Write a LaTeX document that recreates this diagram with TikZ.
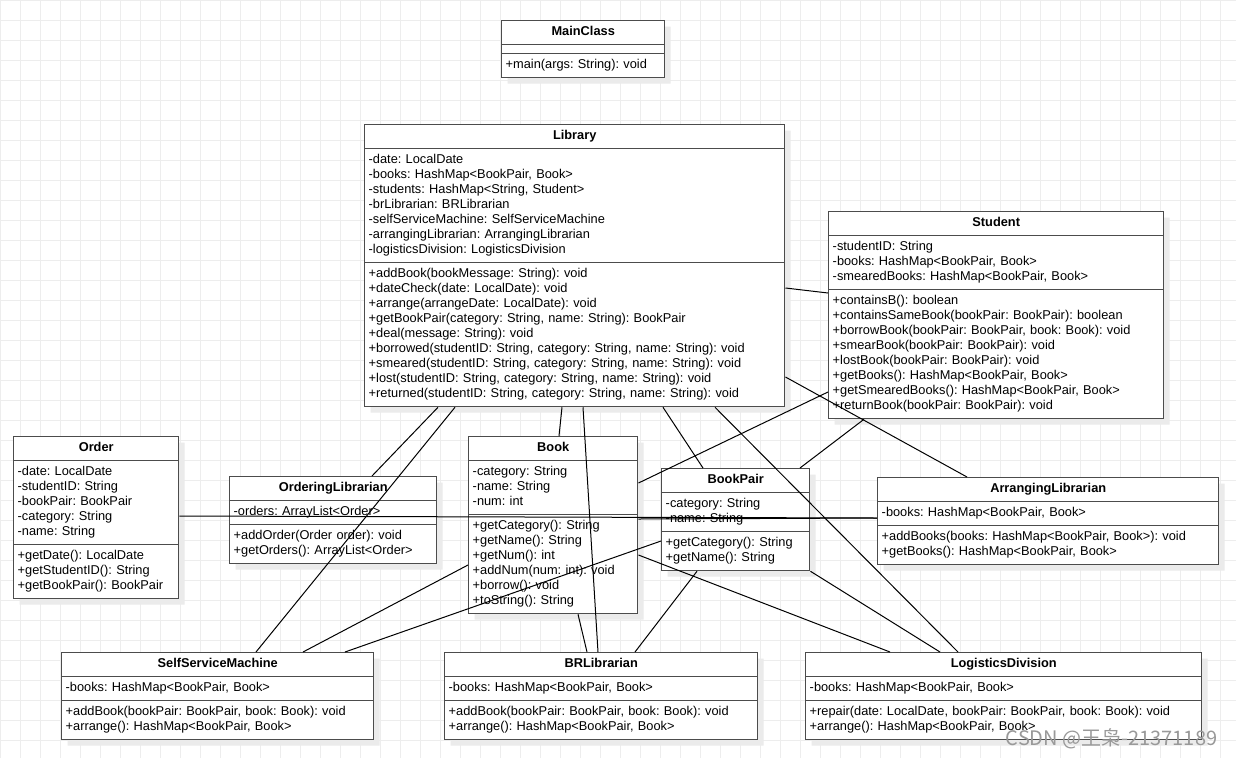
\documentclass[tikz,border=0pt]{standalone}
\usepackage{fontspec}
\setmainfont{Liberation Sans}
\newfontfamily\cjk{Noto Sans CJK SC}
\frenchspacing
\usepackage{tikz}
\usetikzlibrary{shapes.multipart}
\usetikzlibrary{shadows}
\newcommand{\umlfont}{\fontsize{9.6}{11.25}\selectfont\frenchspacing}
\newcommand{\ctitle}[1]{\hfill\textbf{#1}\strut\hfill\null}
\tikzstyle{umlclass} = [rectangle split, rectangle split parts=3, draw=black!70, line width=1.1pt, fill=white, anchor=north west, inner xsep=3pt, inner ysep=2.8pt, font=\umlfont, align=left, rectangle split empty part height=1.5pt, drop shadow={shadow xshift=4.5pt, shadow yshift=-4.5pt, fill=black!8, opacity=1}]
\tikzstyle{assoc} = [line width=0.75pt, black]
\tikzstyle{gridline} = [black!7, line width=0.5pt]

\begin{document}
\begin{tikzpicture}[x=0.75pt, y=-0.75pt]

\fill[white] (0,0) rectangle (1236,758);
\useasboundingbox (0,0) rectangle (1236,758);
\foreach \gx in {0,20,...,1240} \draw[gridline] (\gx,0) -- (\gx,758);
\foreach \gy in {0,20,...,760} \draw[gridline] (0,\gy) -- (1236,\gy);

\node (main) [umlclass, text width=116.25pt] at (501,20) {\ctitle{MainClass}
  \nodepart{two}
  \nodepart{three}\strut +main(args: String): void\strut};

\node (lib) [umlclass, text width=309pt] at (364,124) {\ctitle{Library}
  \nodepart{two}\strut -date: LocalDate\\ -books: HashMap<BookPair, Book>\\ -students: HashMap<String, Student>\\ -brLibrarian: BRLibrarian\\ -selfServiceMachine: SelfServiceMachine\\ -arrangingLibrarian: ArrangingLibrarian\\ -logisticsDivision: LogisticsDivision\strut
  \nodepart{three}\strut +addBook(bookMessage: String): void\\ +dateCheck(date: LocalDate): void\\ +arrange(arrangeDate: LocalDate): void\\ +getBookPair(category: String, name: String): BookPair\\ +deal(message: String): void\\ +borrowed(studentID: String, category: String, name: String): void\\ +smeared(studentID: String, category: String, name: String): void\\ +lost(studentID: String, category: String, name: String): void\\ +returned(studentID: String, category: String, name: String): void\strut};

\node (stu) [umlclass, text width=245.25pt] at (828,211) {\ctitle{Student}
  \nodepart{two}\strut -studentID: String\\ -books: HashMap<BookPair, Book>\\ -smearedBooks: HashMap<BookPair, Book>\strut
  \nodepart{three}\strut +containsB(): boolean\\ +containsSameBook(bookPair: BookPair): boolean\\ +borrowBook(bookPair: BookPair, book: Book): void\\ +smearBook(bookPair: BookPair): void\\ +lostBook(bookPair: BookPair): void\\ +getBooks(): HashMap<BookPair, Book>\\ +getSmearedBooks(): HashMap<BookPair, Book>\\ +returnBook(bookPair: BookPair): void\strut};

\node (ord) [umlclass, text width=117.75pt] at (13,436) {\ctitle{Order}
  \nodepart{two}\strut -date: LocalDate\\ -studentID: String\\ -bookPair: BookPair\\ -category: String\\ -name: String\strut
  \nodepart{three}\strut +getDate(): LocalDate\\ +getStudentID(): String\\ +getBookPair(): BookPair\strut};

\node (olib) [umlclass, text width=149.25pt] at (229,476) {\ctitle{OrderingLibrarian}
  \nodepart{two}\strut -orders: ArrayList<Order>\strut
  \nodepart{three}\strut +addOrder(Order order): void\\ +getOrders(): ArrayList<Order>\strut};

\node (book) [umlclass, text width=120.75pt] at (468,436) {\ctitle{Book}
  \nodepart{two}\strut -category: String\\ -name: String\\ -num: int\strut
  \nodepart{three}\strut +getCategory(): String\\ +getName(): String\\ +getNum(): int\\ +addNum(num: int): void\\ +borrow(): void\\ +toString(): String\strut};

\node (pair) [umlclass, text width=105pt] at (661,468) {\ctitle{BookPair}
  \nodepart{two}\strut -category: String\\ -name: String\strut
  \nodepart{three}\strut +getCategory(): String\\ +getName(): String\strut};

\node (alib) [umlclass, text width=249.75pt] at (877,477) {\ctitle{ArrangingLibrarian}
  \nodepart{two}\strut -books: HashMap<BookPair, Book>\strut
  \nodepart{three}\strut +addBooks(books: HashMap<BookPair, Book>): void\\ +getBooks(): HashMap<BookPair, Book>\strut};

\node (ssm) [umlclass, text width=228pt] at (61,652) {\ctitle{SelfServiceMachine}
  \nodepart{two}\strut -books: HashMap<BookPair, Book>\strut
  \nodepart{three}\strut +addBook(bookPair: BookPair, book: Book): void\\ +arrange(): HashMap<BookPair, Book>\strut};

\node (brl) [umlclass, text width=228.75pt] at (444,652) {\ctitle{BRLibrarian}
  \nodepart{two}\strut -books: HashMap<BookPair, Book>\strut
  \nodepart{three}\strut +addBook(bookPair: BookPair, book: Book): void\\ +arrange(): HashMap<BookPair, Book>\strut};

\node (logi) [umlclass, text width=291pt] at (805,652) {\ctitle{LogisticsDivision}
  \nodepart{two}\strut -books: HashMap<BookPair, Book>\strut
  \nodepart{three}\strut +repair(date: LocalDate, bookPair: BookPair, book: Book): void\\ +arrange(): HashMap<BookPair, Book>\strut};

% associations
\draw [assoc] (lib.east |- 0,288) -- (stu.west |- 0,293);
\draw [assoc] (lib.south -| 438,0) -- (olib.north -| 372,0);
\draw [assoc] (lib.south -| 455,0) -- (ssm.north -| 256,0);
\draw [assoc] (lib.south -| 562,0) -- (book.north -| 559,0);
\draw [assoc] (lib.south -| 583,0) -- (brl.north -| 598,0);
\draw [assoc] (lib.south -| 663,0) -- (pair.north -| 703,0);
\draw [assoc] (lib.south -| 715,0) -- (logi.north -| 958,0);
\draw [assoc] (lib.east |- 0,377) -- (alib.north -| 967,0);

\draw [assoc] (stu.west |- 0,392) -- (book.east |- 0,483);
\draw [assoc] (stu.south -| 864,0) -- (pair.north -| 800,0);

\draw [assoc] (ord.east |- 0,516) -- (alib.west |- 0,518);
\draw [assoc] (book.east |- 0,519) -- (alib.west |- 0,518);

\draw [assoc] (book.west |- 0,565) -- (ssm.north -| 303,0);
\draw [assoc] (pair.west |- 0,541) -- (ssm.north -| 345,0);
\draw [assoc] (book.east |- 0,555) -- (logi.north -| 890,0);
\draw [assoc] (book.south -| 578,0) -- (brl.north -| 587,0);
\draw [assoc] (pair.south -| 697,0) -- (brl.north -| 635,0);
\draw [assoc] (pair.south east) -- (logi.north -| 940,0);

\node (mark) [anchor=east, text=black!40, font=\cjk\fontsize{15}{15}\selectfont] at (1222,739) {CSDN @王枭-21371189};

\end{tikzpicture}
\end{document}
